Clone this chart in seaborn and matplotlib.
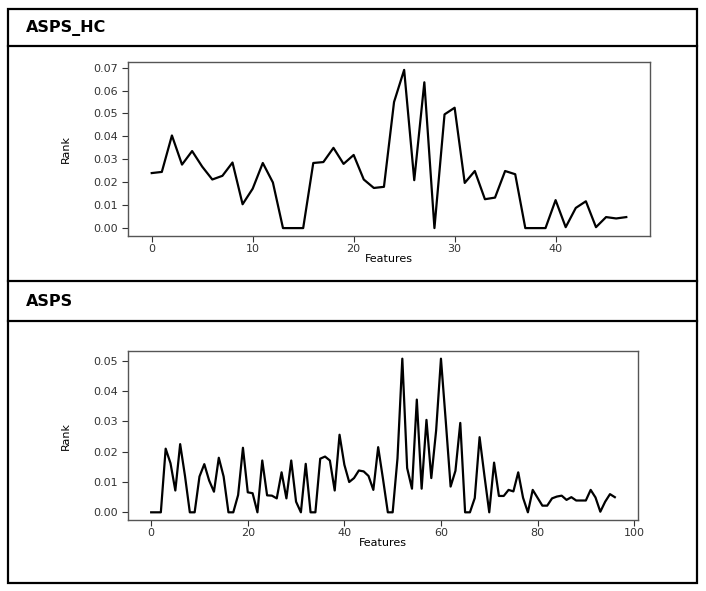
import matplotlib
matplotlib.use("Agg")
import matplotlib.pyplot as plt
import seaborn as sns
import numpy as np
from matplotlib.lines import Line2D
from matplotlib.patches import Rectangle

# feature rank values
hc_rank = [0.024, 0.0245, 0.0404, 0.0277, 0.0336, 0.0268, 0.0212, 0.0228, 0.0286, 0.0104,
           0.0172, 0.0284, 0.0199, 0.0, 0.0, 0.0, 0.0284, 0.0288, 0.035, 0.028,
           0.0319, 0.0212, 0.0175, 0.018, 0.055, 0.069, 0.0209, 0.0636, 0.0, 0.0496,
           0.0525, 0.0197, 0.0249, 0.0126, 0.0133, 0.0249, 0.0235, 0.0, 0.0, 0.0,
           0.0122, 0.0004, 0.0088, 0.0117, 0.0004, 0.0048, 0.0042, 0.0048]

asps_rank = [0, 0, 0, 0.021, 0.0162, 0.0072, 0.0225, 0.012, 0, 0,
             0.0118, 0.0159, 0.0105, 0.0068, 0.018, 0.0118, 0, 0, 0.0057, 0.0213,
             0.0066, 0.0063, 0, 0.0171, 0.0056, 0.0055, 0.0046, 0.0132, 0.0046, 0.0171,
             0.0035, 0, 0.016, 0, 0, 0.0177, 0.0184, 0.0171, 0.0072, 0.0256,
             0.0157, 0.01, 0.0113, 0.0138, 0.0135, 0.012, 0.0074, 0.0215, 0.011, 0,
             0, 0.0178, 0.0507, 0.0146, 0.0078, 0.0372, 0.0078, 0.0305, 0.0113, 0.027,
             0.0507, 0.03, 0.0085, 0.0137, 0.0295, 0, 0, 0.0047, 0.0248, 0.0121,
             0, 0.0164, 0.0054, 0.0054, 0.0074, 0.0069, 0.0132, 0.0048, 0, 0.0074,
             0.0048, 0.0022, 0.0022, 0.0046, 0.0052, 0.0055, 0.0041, 0.005, 0.0039, 0.0039,
             0.0039, 0.0074, 0.0049, 0.0002, 0.0035, 0.006, 0.005]

titles = ["ASPS_HC", "ASPS"]

W, H = 706, 591
fig = plt.figure(figsize=(W / 100, H / 100), dpi=100)
fig.patch.set_facecolor("white")

def fx(px):
    return px / W

def fy(py):
    return 1 - py / H

# frame around the two panels
fig.add_artist(Rectangle((fx(8), fy(583)), fx(697) - fx(8), fy(9) - fy(583),
                         transform=fig.transFigure, fill=False, edgecolor="black", lw=1.6))
for yy in [46, 281, 321]:
    fig.add_artist(Line2D([fx(8), fx(697)], [fy(yy), fy(yy)], transform=fig.transFigure,
                          color="black", lw=1.6))

fig.text(fx(26), fy(28), titles[0], fontsize=11.5, fontweight="bold", family="DejaVu Sans",
         va="center", ha="left")
fig.text(fx(26), fy(302), titles[1], fontsize=11.5, fontweight="bold", family="DejaVu Sans",
         va="center", ha="left")

ax1 = fig.add_axes([fx(128), fy(236), fx(650) - fx(128), fy(62) - fy(236)])
ax2 = fig.add_axes([fx(128), fy(520), fx(638) - fx(128), fy(351) - fy(520)])

for ax, vals in [(ax1, hc_rank), (ax2, asps_rank)]:
    sns.lineplot(x=np.arange(len(vals)), y=vals, ax=ax, color="black", lw=1.6)
    ax.set_xlabel("Features", fontsize=8, labelpad=0)
    ax.set_ylabel("Rank", fontsize=8, labelpad=16)
    ax.tick_params(labelsize=8, colors="#333333", length=4)
    ax.tick_params(axis="x", pad=1.5)
    for s in ax.spines.values():
        s.set_color("#555555")
        s.set_linewidth(1.0)

ax1.set_yticks([0, 0.01, 0.02, 0.03, 0.04, 0.05, 0.06, 0.07])
ax1.set_xticks([0, 10, 20, 30, 40])
ax2.set_yticks([0, 0.01, 0.02, 0.03, 0.04, 0.05])
ax2.set_xticks([0, 20, 40, 60, 80, 100])

fig.savefig("out.png", dpi=100)
